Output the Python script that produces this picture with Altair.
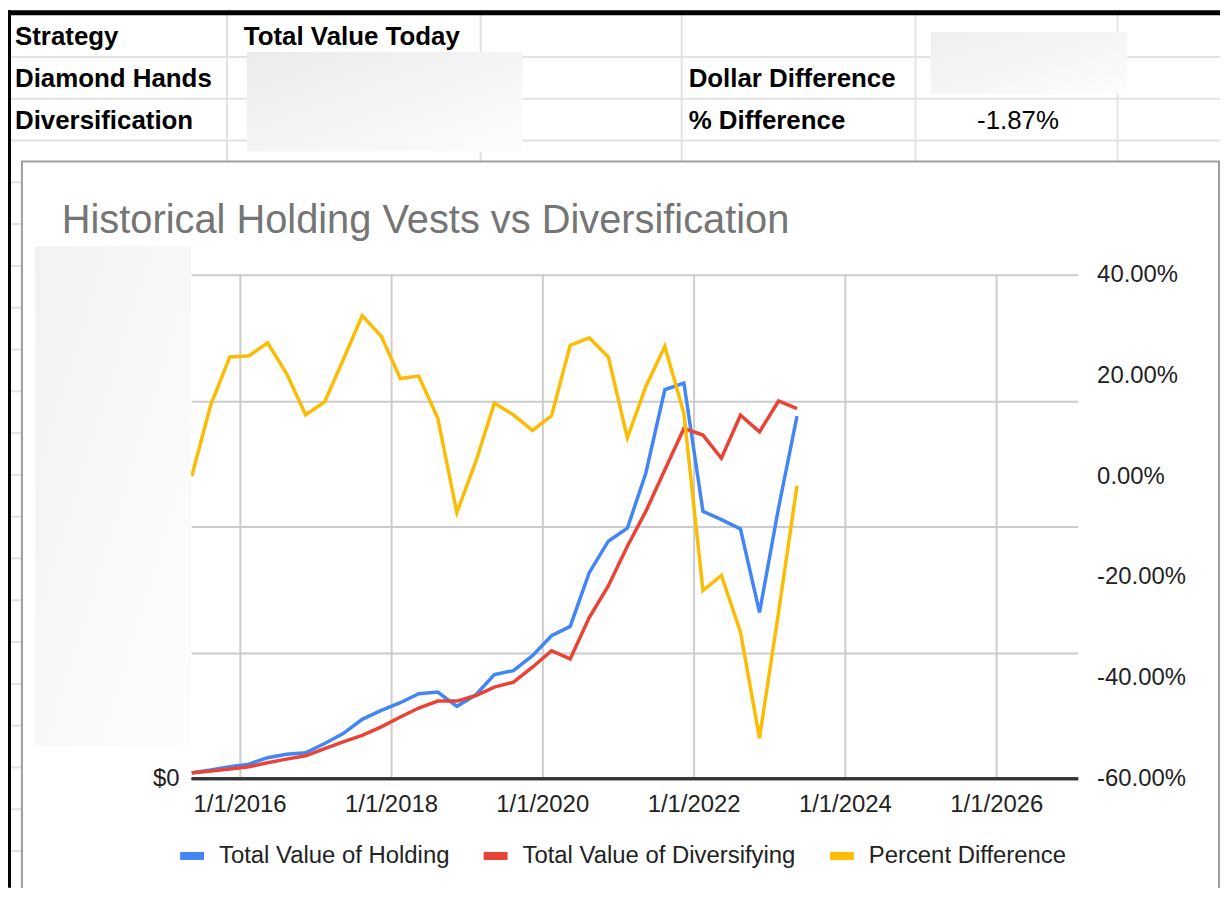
import altair as alt
import pandas as pd

# ---------------- data ----------------
DATES = [
    "2015-05-15", "2015-08-15", "2015-11-15",
    "2016-02-15", "2016-05-15", "2016-08-15", "2016-11-15",
    "2017-02-15", "2017-05-15", "2017-08-15", "2017-11-15",
    "2018-02-15", "2018-05-15", "2018-08-15", "2018-11-15",
    "2019-02-15", "2019-05-15", "2019-08-15", "2019-11-15",
    "2020-02-15", "2020-05-15", "2020-08-15", "2020-11-15",
    "2021-02-15", "2021-05-15", "2021-08-15", "2021-11-15",
    "2022-02-15", "2022-05-15", "2022-08-15", "2022-11-15",
    "2023-02-15", "2023-05-15",
]
HOLDING = [
    4500, 6600, 9200, 11300, 16400, 19200, 20300, 27700, 35600, 46900, 54000,
    60100, 67200, 68500, 57200, 66400, 82400, 85600, 97500, 113300, 120700,
    163400, 188400, 198700, 242400, 308800, 314100, 212100, 205500, 198200,
    131800, 215000, 287700,
]
DIVERSIFYING = [
    4200, 5800, 7400, 9200, 12400, 15300, 17900, 23700, 29000, 34200, 40900,
    48800, 55900, 61400, 61400, 65800, 72500, 76400, 88300, 101400, 94900,
    127800, 152800, 184400, 212100, 245100, 278000, 272700, 254300, 288500,
    275300, 299800, 293800,
]
PERCENT_DIFF = [
    0.000, 0.142, 0.237, 0.239, 0.265, 0.204, 0.122, 0.148, 0.231, 0.319, 0.278,
    0.194, 0.199, 0.115, -0.072, 0.030, 0.145, 0.122, 0.091, 0.120, 0.260,
    0.275, 0.237, 0.076, 0.178, 0.258, 0.125, -0.227, -0.197, -0.309,
    -0.520, -0.270, -0.0187,
]
SERIES = ["Total Value of Holding", "Total Value of Diversifying", "Percent Difference"]
COLORS = ["#4285f4", "#ea4335", "#fbbc04"]
X_TICK_YEARS = [2016, 2018, 2020, 2022, 2024, 2026]
LEFT_TICKS = [0, 100000, 200000, 300000, 400000]
RIGHT_TICKS = [-0.6, -0.4, -0.2, 0.0, 0.2, 0.4]
TITLE = "Historical Holding Vests vs Diversification"
SHEET_COL_A = ["Strategy", "Diamond Hands", "Diversification"]
SHEET_COL_B = ["Total Value Today"]
SHEET_COL_D = ["Dollar Difference", "% Difference"]
SHEET_COL_E = ["-1.87%"]

# ---------------- layout / style ----------------
FONT = "Liberation Sans"
OX, OY = 192, 274          # page position of plot origin
W, H = 891, 506            # plot area
CANVAS_W, CANVAS_H = 1218, 880
PAD = {"left": OX - 8, "top": OY - 8,
       "right": CANVAS_W - (OX - 8) - W, "bottom": CANVAS_H - (OY - 8) - H}
SHEET_GRID = "#e2e2e2"


def px(x):
    return x - OX


def py(y):
    return y - OY


ONE = alt.InlineData(values=[{"k": 0}])
layers = []


def hline(y, x1, x2, color=SHEET_GRID, width=2):
    return alt.Chart(ONE).mark_rule(color=color, strokeWidth=width).encode(
        x=alt.value(px(x1)), x2=alt.value(px(x2)), y=alt.value(py(y)))


def vline(x, y1, y2, color=SHEET_GRID, width=2):
    return alt.Chart(ONE).mark_rule(color=color, strokeWidth=width).encode(
        x=alt.value(px(x)), y=alt.value(py(y1)), y2=alt.value(py(y2)))


def box(x1, y1, x2, y2, fill, stroke=None, sw=0):
    kw = dict(fill=fill)
    if stroke is not None:
        kw.update(stroke=stroke, strokeWidth=sw)
    return alt.Chart(ONE).mark_rect(**kw).encode(
        x=alt.value(px(x1)), x2=alt.value(px(x2)),
        y=alt.value(py(y1)), y2=alt.value(py(y2)))


def cell(text, x, y, align="left", bold=True):
    return alt.Chart(pd.DataFrame({"label": [text]})).mark_text(
        align=align, baseline="middle", font=FONT, fontSize=26,
        fontWeight="bold" if bold else "normal", color="#000000",
    ).encode(text="label:N", x=alt.value(px(x)), y=alt.value(py(y)))


def blur(c_in, c_out):
    return alt.LinearGradient(
        gradient="linear", x1=0, y1=0, x2=1, y2=1,
        stops=[alt.GradientStop(offset=0, color=c_in),
               alt.GradientStop(offset=0.5, color=c_out),
               alt.GradientStop(offset=1, color="#fdfdfd")])


# spreadsheet background
for y in [55, 97, 139]:
    layers.append(hline(y, 8, CANVAS_W + 8))
for y in range(181, 888, 42):
    layers.append(hline(y, 8, 22))
for x in [228, 483, 685, 920, 1123]:
    layers.append(vline(x, 8, 160))
layers.append(box(8, 8, CANVAS_W + 8, 13, "#000000"))
layers.append(box(8, 8, 11, 890, "#000000"))

# table text
ROW_Y = [35, 77, 119]
for t, y in zip(SHEET_COL_A, ROW_Y):
    layers.append(cell(t, 15, y))
layers.append(cell(SHEET_COL_B[0], 245, ROW_Y[0]))
for t, y in zip(SHEET_COL_D, ROW_Y[1:]):
    layers.append(cell(t, 692, y))
layers.append(cell(SHEET_COL_E[0], 1023, ROW_Y[2], align="center", bold=False))

# blurred (hidden) values
layers.append(box(248, 50, 525, 150, blur("#ebebeb", "#f4f4f4")))
layers.append(box(935, 30, 1133, 92, blur("#efefef", "#f5f5f5")))

# chart frame
layers.append(box(22, 160, 1225, 900, "transparent", stroke="#9e9e9e", sw=2))

# ---------------- main chart ----------------
x_enc = alt.X(
    "date:T", title=None,
    scale=alt.Scale(type="utc", domain=[
        alt.DateTime(year=2015, month=5, date=12, utc=True),
        alt.DateTime(year=2027, month=1, date=29, utc=True)]),
    axis=alt.Axis(
        values=[alt.DateTime(year=yy, month=1, date=1, utc=True) for yy in X_TICK_YEARS],
        format="%-m/%-d/%Y", labelFontSize=24, labelFont=FONT, labelColor="#222222",
        labelPadding=14, labelFlush=False, ticks=False, domain=True,
        domainColor="#333333", domainWidth=3, grid=True, gridColor="#cccccc",
        gridWidth=2, labelOverlap=False),
)

color_enc = alt.Color(
    "series:N",
    scale=alt.Scale(domain=SERIES, range=COLORS),
    legend=alt.Legend(
        title=None, orient="none", legendX=px(177), legendY=py(842),
        direction="horizontal", symbolType="stroke", symbolSize=576,
        symbolStrokeWidth=8, labelFontSize=24, labelFont=FONT,
        labelColor="#222222", labelOffset=11, columnPadding=18,
        labelLimit=500, padding=0),
)

VALUE_SCALE = dict(domain=[0, 400000], nice=False)

df_hold = pd.DataFrame({"date": DATES, "value": HOLDING, "series": SERIES[0]})
df_div = pd.DataFrame({"date": DATES, "value": DIVERSIFYING, "series": SERIES[1]})
df_pct = pd.DataFrame({"date": DATES, "pct": PERCENT_DIFF, "series": SERIES[2]})

hold_line = alt.Chart(df_hold).mark_line(
    strokeWidth=3.5, strokeJoin="miter").encode(
    x=x_enc,
    y=alt.Y("value:Q", title=None,
            scale=alt.Scale(**VALUE_SCALE),
            axis=alt.Axis(
                orient="left", values=LEFT_TICKS, format="$,.0f",
                labelFontSize=24, labelFont=FONT, labelColor="#222222",
                labelPadding=12, ticks=False, domain=False, grid=True,
                gridColor={"condition": {"test": "datum.value === 0", "value": "#333333"},
                           "value": "#cccccc"},
                gridWidth={"condition": {"test": "datum.value === 0", "value": 3},
                           "value": 2})),
    color=color_enc,
)

div_line = alt.Chart(df_div).mark_line(
    strokeWidth=3.5, strokeJoin="miter").encode(
    x=x_enc,
    y=alt.Y("value:Q", title=None, scale=alt.Scale(**VALUE_SCALE), axis=None),
    color=color_enc,
)

pct_line = alt.Chart(df_pct).mark_line(
    strokeWidth=3.5, strokeJoin="miter").encode(
    x=x_enc,
    y=alt.Y("pct:Q", title=None,
            scale=alt.Scale(domain=[-0.6, 0.4], nice=False, zero=False),
            axis=alt.Axis(
                orient="right", values=RIGHT_TICKS, format=".2%",
                labelExpr="replace(datum.label, '\u2212', '-')",
                labelFontSize=24, labelFont=FONT, labelColor="#222222",
                labelPadding=19, ticks=False, domain=False, grid=False)),
    color=color_enc,
)

layers += [hold_line, div_line, pct_line]

# blurred left-axis labels
layers.append(box(35, 245, 192, 748, blur("#f2f2f2", "#f8f8f8")))

# chart title
layers.append(
    alt.Chart(pd.DataFrame({"t": [TITLE]})).mark_text(
        align="left", baseline="alphabetic", font=FONT, fontSize=40,
        color="#757575").encode(
        text="t:N", x=alt.value(px(62)), y=alt.value(py(232))))

chart = alt.layer(*layers).resolve_scale(y="independent").properties(
    width=W, height=H,
    autosize=alt.AutoSizeParams(type="none"),
    padding=PAD,
    background="white",
).configure_view(stroke=None)

chart.save("out.html", embed_options={"renderer": "svg", "actions": False})
